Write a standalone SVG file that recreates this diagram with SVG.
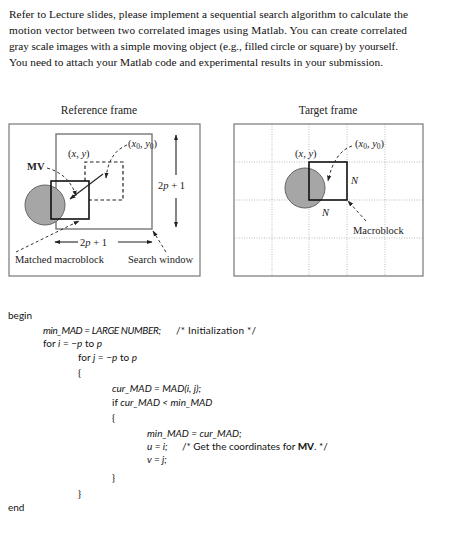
<svg xmlns="http://www.w3.org/2000/svg" width="452" height="537" viewBox="0 0 452 537">
<defs>
<style>
.para{font-family:"Liberation Serif","Times New Roman",serif;font-size:11.3px;fill:#111}
.lbl{font-family:"Liberation Serif","Times New Roman",serif;font-size:10.5px;fill:#222}
.ttl{font-family:"Liberation Serif","Times New Roman",serif;font-size:11.5px;fill:#222}
.code{font-family:Lato,"Liberation Sans",Arial,sans-serif;font-size:10px;fill:#111}
.it{font-style:italic}
.b{font-weight:bold}
.frame{fill:none;stroke:#777;stroke-width:1.2}
.sw{fill:none;stroke:#777;stroke-width:1.4}
.mb{fill:none;stroke:#111;stroke-width:1.6}
.dsq{fill:none;stroke:#222;stroke-width:1.2;stroke-dasharray:3.5 2.5}
.dash{fill:none;stroke:#333;stroke-width:1;stroke-dasharray:3 2.5}
.solid{fill:none;stroke:#222;stroke-width:1.1}
.grid{fill:none;stroke:#aaa;stroke-width:0.8;stroke-dasharray:1 1.5}
.circ{fill:#a6a6a6;stroke:#666;stroke-width:1}
</style>
<marker id="ah" viewBox="0 0 10 10" refX="9" refY="5" markerWidth="6" markerHeight="6" orient="auto" markerUnits="userSpaceOnUse">
<path d="M0,1.5 L10,5 L0,8.5 Z" fill="#222"/>
</marker>
</defs>

<g id="intro">
<text class="para" x="9" y="17.5" textLength="399">Refer to Lecture slides, please implement a sequential search algorithm to calculate the</text>
<text class="para" x="9" y="33.5" textLength="398">motion vector between two correlated images using Matlab.  You can create correlated</text>
<text class="para" x="9" y="50" textLength="389">gray scale images with a simple moving object (e.g., filled circle or square) by yourself.</text>
<text class="para" x="9" y="66" textLength="374">You need to attach your Matlab code and experimental results in your submission.</text>
</g>

<g id="reference-frame">
<text class="ttl" x="99" y="114" text-anchor="middle">Reference frame</text>
<rect class="frame" x="9" y="124" width="191" height="152"/>
<rect class="sw" x="56" y="134" width="96" height="95"/>
<circle class="circ" cx="45" cy="205" r="20"/>
<path class="dsq" d="M85,181 V162 H123 V200 H89"/>
<rect class="mb" x="51" y="181" width="38" height="38"/>
<text class="lbl" x="68" y="157">(<tspan class="it">x</tspan>, <tspan class="it">y</tspan>)</text>
<text class="lbl" x="128" y="147">(<tspan class="it">x</tspan><tspan font-size="7.5" dy="2">0</tspan><tspan dy="-2">, </tspan><tspan class="it">y</tspan><tspan font-size="7.5" dy="2">0</tspan><tspan dy="-2">)</tspan></text>
<text class="lbl b" x="27" y="170" font-size="11">MV</text>
<text class="lbl" x="158" y="189" font-size="11">2<tspan class="it">p</tspan> + 1</text>
<text class="lbl" x="80" y="246" font-size="11">2<tspan class="it">p</tspan> + 1</text>
<text class="lbl" x="15" y="263">Matched macroblock</text>
<text class="lbl" x="128" y="263">Search window</text>
</g>

<g id="target-frame">
<text class="ttl" x="328" y="114" text-anchor="middle">Target frame</text>
<path class="grid" d="M272,124 V276 M309,124 V276 M347,124 V276 M385,124 V276 M234,162 H423 M234,200 H423 M234,238 H423"/>
<rect class="frame" x="234" y="124" width="189" height="152"/>
<circle class="circ" cx="305" cy="188" r="20"/>
<rect class="mb" x="309" y="162" width="38" height="38"/>
<text class="lbl" x="295" y="157">(<tspan class="it">x</tspan>, <tspan class="it">y</tspan>)</text>
<text class="lbl" x="355" y="147">(<tspan class="it">x</tspan><tspan font-size="7.5" dy="2">0</tspan><tspan dy="-2">, </tspan><tspan class="it">y</tspan><tspan font-size="7.5" dy="2">0</tspan><tspan dy="-2">)</tspan></text>
<text class="lbl it" x="351" y="184">N</text>
<text class="lbl it" x="322" y="216">N</text>
<text class="lbl" x="353" y="234">Macroblock</text>
</g>

<g id="connectors">
<path class="solid" d="M176,175 V135" marker-end="url(#ah)"/>
<path class="solid" d="M176,198 V227" marker-end="url(#ah)"/>
<path class="solid" d="M78,242 H55" marker-end="url(#ah)"/>
<path class="solid" d="M118,242 H152" marker-end="url(#ah)"/>
<path class="solid" d="M103,174 L70,199" marker-end="url(#ah)"/>
<path class="dash" d="M127,145 C115,150 108,160 106,178" marker-end="url(#ah)"/>
<path class="dash" d="M47,168 C62,172 72,182 76,196" marker-end="url(#ah)"/>
<path class="dash" d="M16,252 L79,221" marker-end="url(#ah)"/>
<path class="dash" d="M166,252 L153,231" marker-end="url(#ah)"/>
<path class="dash" d="M352,146 C340,150 332,162 328,181" marker-end="url(#ah)"/>
<path class="dash" d="M366,221 L348,201" marker-end="url(#ah)"/>
</g>

<g id="pseudocode">
<text class="code" x="8" y="319">begin</text>
<text class="code" x="43" y="334" textLength="118"><tspan class="it">min_MAD = LARGE NUMBER;</tspan></text>
<text class="code" x="176" y="334" textLength="80">/* Initialization */</text>
<text class="code" x="43" y="347">for <tspan class="it">i</tspan> = −<tspan class="it">p</tspan> to <tspan class="it">p</tspan></text>
<text class="code" x="78" y="361">for <tspan class="it">j</tspan> = −<tspan class="it">p</tspan> to <tspan class="it">p</tspan></text>
<text class="code" x="78" y="376">{</text>
<text class="code it" x="112" y="392">cur_MAD = MAD(i, j);</text>
<text class="code" x="112" y="406">if <tspan class="it">cur_MAD  &lt;  min_MAD</tspan></text>
<text class="code" x="112" y="421">{</text>
<text class="code it" x="147" y="437">min_MAD = cur_MAD;</text>
<text class="code it" x="147" y="450">u = i;</text>
<text class="code" x="182" y="450">/* Get the coordinates for <tspan class="b">MV</tspan>. */</text>
<text class="code it" x="147" y="463">v = j;</text>
<text class="code" x="112" y="481">}</text>
<text class="code" x="78" y="497">}</text>
<text class="code" x="8" y="511">end</text>
</g>
</svg>
